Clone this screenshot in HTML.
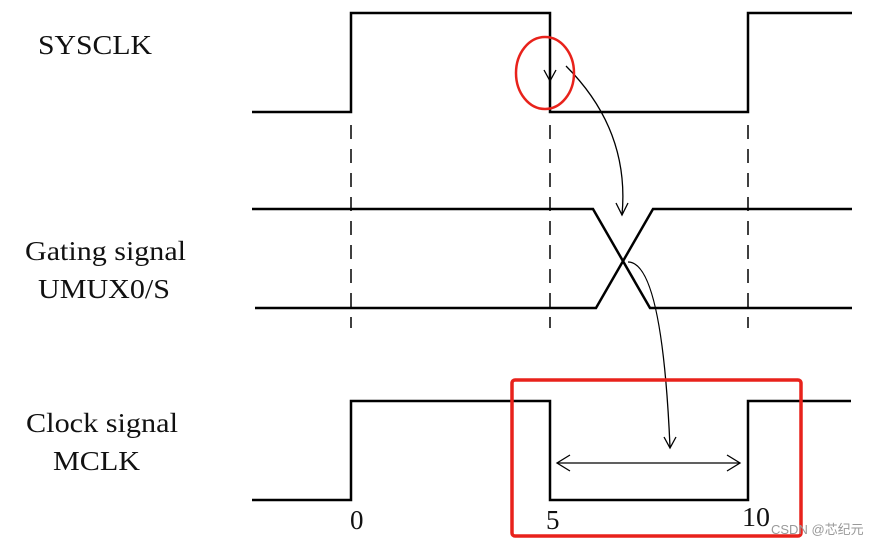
<!DOCTYPE html>
<html><head><style>body{margin:0;background:#fff}svg{display:block}</style></head><body>
<svg width="886" height="545" viewBox="0 0 886 545" xmlns="http://www.w3.org/2000/svg">
<g fill="none" stroke="#000" stroke-width="2.5">
<polyline points="252,112 351,112 351,13 550,13 550,112 748,112 748,13 852,13"/>
<polyline points="252,209 593,209 650,308 852,308"/>
<polyline points="255,308 596,308 653,209 852,209"/>
<polyline points="252,500 351,500 351,401 550,401 550,500 748,500 748,401 851,401"/>
</g>
<g stroke="#000" stroke-width="1.5" stroke-dasharray="14,10">
<line x1="351" y1="125" x2="351" y2="328"/>
<line x1="550" y1="125" x2="550" y2="328"/>
<line x1="748" y1="125" x2="748" y2="328"/>
</g>
<g fill="none" stroke="#000" stroke-width="1.3">
<path d="M566,66 Q630,130 622,215"/>
<path d="M616,203 L622,215 L628,203"/>
<path d="M544,70 L550,81 L556,70"/>
<path d="M628,262 Q662,262 670,447"/>
<path d="M664,437 L670,448 L676,437"/>
<line x1="557" y1="463" x2="740" y2="463"/>
<path d="M570,455 L557,463 L570,471 M727,455 L740,463 L727,471"/>
</g>
<ellipse cx="545" cy="73" rx="29" ry="36" fill="none" stroke="#e8221b" stroke-width="2.5"/>
<rect x="512" y="380" width="289" height="156" rx="3" fill="none" stroke="#e8221b" stroke-width="3.5"/>
<g font-family="Liberation Serif, serif" font-size="27" fill="#111">
<text x="38" y="54" textLength="114" lengthAdjust="spacingAndGlyphs">SYSCLK</text>
<text x="25" y="260" textLength="161" lengthAdjust="spacingAndGlyphs">Gating signal</text>
<text x="38" y="298" textLength="132" lengthAdjust="spacingAndGlyphs">UMUX0/S</text>
<text x="26" y="432" textLength="152" lengthAdjust="spacingAndGlyphs">Clock signal</text>
<text x="53" y="470" textLength="87" lengthAdjust="spacingAndGlyphs">MCLK</text>
<text x="350" y="529">0</text>
<text x="546" y="529">5</text>
<text x="742" y="526" textLength="28" lengthAdjust="spacingAndGlyphs">10</text>
</g>
<text x="771" y="534" font-family="Liberation Sans, Noto Sans CJK SC, sans-serif" font-size="13" fill="#999">CSDN @芯纪元</text>
</svg>
</body></html>
